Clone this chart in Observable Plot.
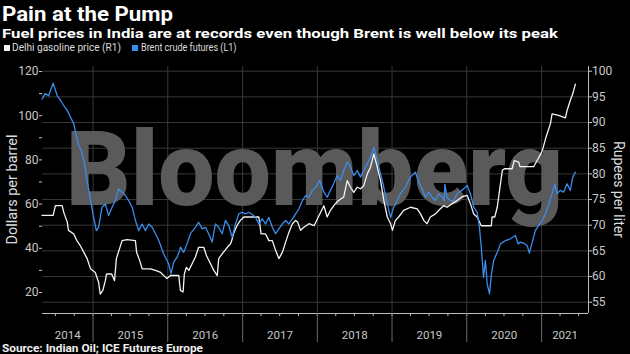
<!DOCTYPE html>
<html>
<head>
<meta charset="utf-8">
<script src="https://cdn.jsdelivr.net/npm/d3@7"></script>
<script src="https://cdn.jsdelivr.net/npm/@observablehq/plot@0.6"></script>
<style>
html,body{margin:0;padding:0;background:#000;}
#wrap{position:relative;width:630px;height:354px;overflow:hidden;background:#000;font-family:Roboto,"DejaVu Sans",sans-serif;color:#fff;}
.abs{position:absolute;white-space:nowrap;line-height:1;transform-origin:0 50%;display:inline-block;}
#title{left:2px;top:3.7px;font-size:20px;font-weight:700;}
#subtitle{left:2px;top:26.6px;font-size:13.5px;font-weight:700;}
.lg{top:43px;font-size:10px;color:#dcdcdc;}
.sq{position:absolute;top:45px;width:6px;height:6px;}
#source{left:2px;top:343.5px;font-size:10px;font-weight:700;color:#f0f0f0;}
#chart{position:absolute;left:0;top:56px;}
</style>
</head>
<body>
<div id="wrap">
  <span id="title" class="abs" data-w="171">Pain at the Pump</span>
  <span id="subtitle" class="abs" data-w="556">Fuel prices in India are at records even though Brent is well below its peak</span>
  <div class="sq" style="left:4px;background:#f2f2f2"></div>
  <span class="abs lg" style="left:12px" data-w="109">Delhi gasoline price (R1)</span>
  <div class="sq" style="left:132px;background:#3b8ced"></div>
  <span class="abs lg" style="left:140.5px" data-w="95.5">Brent crude futures (L1)</span>
  <div id="chart"></div>
  <span id="source" class="abs" data-w="201">Source: Indian Oil; ICE Futures Europe</span>
</div>
<script>
// ---- Data ----
const brentDates = ["2014-04-27","2014-05-12","2014-05-29","2014-06-20","2014-07-10","2014-07-26","2014-08-11","2014-08-28","2014-09-13","2014-09-29","2014-10-12","2014-10-23","2014-11-04","2014-11-17","2014-12-03","2014-12-20",
"2015-01-04","2015-01-17","2015-01-28","2015-02-14","2015-03-02","2015-03-18","2015-04-04","2015-04-20","2015-05-06","2015-05-23","2015-06-08","2015-06-24","2015-07-11","2015-07-27","2015-08-12","2015-08-29","2015-09-14","2015-09-30","2015-10-17","2015-11-02","2015-11-18","2015-12-12",
"2016-01-05","2016-01-17","2016-01-30","2016-02-16","2016-02-28","2016-03-03","2016-03-19","2016-04-04","2016-04-21","2016-05-15","2016-05-31","2016-06-17","2016-07-03","2016-07-19","2016-08-05","2016-08-21","2016-09-06","2016-09-23","2016-10-09","2016-10-25","2016-11-11","2016-11-27","2016-12-13","2016-12-30",
"2017-01-15","2017-01-31","2017-02-17","2017-03-05","2017-03-21","2017-04-07","2017-04-23","2017-05-09","2017-05-26","2017-06-11","2017-06-27","2017-07-14","2017-07-30","2017-08-15","2017-09-01","2017-09-17","2017-10-03","2017-10-20","2017-11-05","2017-11-21","2017-12-08","2017-12-24",
"2018-01-13","2018-02-02","2018-02-18","2018-03-06","2018-03-22","2018-04-08","2018-04-24","2018-05-10","2018-05-27","2018-06-12","2018-06-28","2018-07-15","2018-07-31","2018-08-16","2018-09-02","2018-09-18","2018-10-04","2018-10-21","2018-11-06","2018-11-22","2018-12-09","2018-12-25",
"2019-01-09","2019-01-26","2019-02-11","2019-03-07","2019-04-01","2019-04-25","2019-05-12","2019-05-28","2019-06-13","2019-06-29","2019-07-16","2019-08-01","2019-08-17","2019-09-03","2019-09-13","2019-09-16","2019-09-27","2019-10-13","2019-10-29","2019-11-15","2019-12-08",
"2020-01-03","2020-01-19","2020-02-04","2020-02-21","2020-03-03","2020-03-12","2020-03-23","2020-04-01","2020-04-10","2020-04-21","2020-05-01","2020-05-12","2020-05-29","2020-06-14","2020-07-08","2020-08-02","2020-08-26","2020-09-08","2020-09-19","2020-10-05","2020-10-22","2020-11-02","2020-11-18","2020-12-01","2020-12-17",
"2021-01-04","2021-01-20","2021-02-05","2021-02-21","2021-03-06","2021-03-17","2021-04-02","2021-04-18","2021-05-05","2021-05-21","2021-06-02","2021-06-15"];
const brentPrices = [107.6,110,109,114.7,109,107,104.6,102.4,99.3,96.3,90.3,86.5,84.3,79.7,70.7,61.6,
54,48,49.5,58.6,60.1,54.8,58.6,61.6,66.9,65.4,63.9,61.6,58.6,52.6,48,51,48,51,49.5,46.6,43.5,37.5,
33,28.5,33.7,36,39,40.5,38.2,42,46.6,49.5,51.8,48.8,49.5,46.6,42.8,51,49.5,46.6,52.6,50.3,45,51,55.6,56.3,
55.6,56.3,55.3,54,51,53.3,51,54,49.5,46.6,48.8,51,52.6,51,53.3,55.6,57.9,61.6,63.9,63.1,66.2,67.6,
70.7,65.4,63.1,66.2,69.2,72.9,70.7,75.2,79,76.7,72.9,75.2,72.2,75.2,78.2,81.2,85.7,79.7,73.7,67.6,60.1,54,
58.6,61.6,64.7,67.6,72.2,74.4,69.9,66.9,63.1,65.4,63.1,61.6,64.7,63.1,61.5,68.9,63.1,61.6,61.6,64.7,66.2,
68.4,64.7,58.6,56.3,49.5,40.5,26.9,34.5,23.9,19.4,28.5,34.5,38.2,42,43.5,44.3,45.8,42,42.8,42.3,41.3,37.8,43.5,48,50.3,
52.6,55.6,60.1,64.7,69.2,64.7,66.2,65.4,69.2,66.2,72.2,74.4];

const gasDates = ["2014-04-27","2014-06-20","2014-07-01","2014-08-03","2014-08-11","2014-08-28","2014-09-03","2014-09-29","2014-10-14","2014-10-31","2014-11-17","2014-12-03","2014-12-20",
"2015-01-12","2015-01-28","2015-02-05","2015-02-18","2015-03-02","2015-03-08","2015-04-02","2015-04-16","2015-04-25","2015-05-23","2015-06-16","2015-07-27","2015-08-02","2015-08-17","2015-08-29","2015-10-08","2015-11-02","2015-11-27","2015-12-28",
"2016-01-14","2016-02-24","2016-02-28","2016-03-03","2016-03-16","2016-03-22","2016-04-01","2016-04-13","2016-04-29","2016-05-15","2016-05-31","2016-06-25","2016-07-08","2016-07-28","2016-08-13","2016-08-30","2016-09-06","2016-09-23","2016-10-18","2016-11-03","2016-11-11","2016-11-17","2016-12-04","2016-12-20",
"2017-01-07","2017-03-21","2017-04-01","2017-04-23","2017-05-09","2017-05-26","2017-06-11","2017-06-27","2017-07-14","2017-07-30","2017-08-15","2017-09-01","2017-09-17","2017-09-27","2017-10-11","2017-10-27","2017-11-21","2017-12-16",
"2018-01-13","2018-02-02","2018-02-18","2018-03-06","2018-03-30","2018-04-15","2018-05-10","2018-05-27","2018-06-12","2018-06-28","2018-07-15","2018-07-31","2018-08-16","2018-09-02","2018-09-18","2018-10-04","2018-10-21","2018-11-06","2018-11-22","2018-12-09","2018-12-25",
"2019-01-03","2019-01-17","2019-02-02","2019-02-27","2019-04-01","2019-05-04","2019-05-20","2019-06-06","2019-06-21","2019-07-07","2019-08-01","2019-08-25","2019-09-10","2019-09-27","2019-10-21","2019-11-15","2019-12-08",
"2020-01-03","2020-01-19","2020-02-04","2020-02-21","2020-03-12","2020-04-30","2020-05-04","2020-05-17","2020-05-29","2020-06-07","2020-06-23","2020-07-03","2020-08-10","2020-08-20","2020-09-11","2020-09-17","2020-11-23","2020-12-10",
"2021-01-01","2021-01-09","2021-01-22","2021-02-13","2021-02-21","2021-03-25","2021-04-27","2021-05-05","2021-05-21","2021-06-02","2021-06-15"];
const gasPrices = [71.9,71.9,73.8,73.8,72.5,70.6,69.0,68.3,67.0,66.0,64.7,63.5,61.5,
60.8,58.9,56.6,57.3,59.2,60.5,60.5,59.2,63.5,67.0,67.2,67.0,64.7,63.1,61.5,61.5,61.2,60.8,59.6,
60.2,60.2,58.6,57.3,57.0,60.5,61.8,61.2,62.5,63.8,65.7,65.7,64.1,62.5,61.2,60.2,63.5,64.4,65.7,66.4,67.3,68.3,69.9,70.9,
71.6,71.6,68.3,68.3,67.0,67.0,65.1,63.5,64.7,66.7,68.6,70.3,70.9,70.6,69.0,69.6,70.3,69.9,
72.2,73.8,71.6,72.9,74.2,74.8,75.5,78.7,77.4,76.4,77.4,77.1,77.7,80.0,81.3,83.9,81.3,78.7,74.8,71.6,70.3,
69.0,70.9,71.6,72.9,73.5,73.2,72.2,70.9,70.3,71.6,72.2,73.2,73.8,73.5,74.2,74.8,75.5,
75.8,74.2,72.2,71.6,69.9,69.9,71.6,71.6,73.5,76.1,80.7,81.0,81.0,82.6,82.3,81.4,81.4,82.6,
84.2,85.2,87.1,89.8,91.7,91.4,90.9,92.3,94.3,95.6,97.5];

const leftTicks = [20,30,40,50,60,70,80,90,100,110,120];     // dollars per barrel
const leftLabels = [20,40,60,80,100,120];
const rightTicks = [55,60,65,70,75,80,85,90,95,100];          // rupees per liter
const yearLabels = ["2014","2015","2016","2017","2018","2019","2020","2021"];

// axis extents of the two y axes (left dollars, right rupees) and of the time axis
const leftDomain = [10.5, 122.26];
const rightDomain = [52.8, 100.92];
const xDomain = [new Date("2014-04-29"), new Date("2021-08-18")];

// right axis values share the left scale through a linear alignment of the two domains
const toLeft = r => leftDomain[0] + (r - rightDomain[0]) / (rightDomain[1] - rightDomain[0]) * (leftDomain[1] - leftDomain[0]);
const fromLeft = v => rightDomain[0] + (v - leftDomain[0]) / (leftDomain[1] - leftDomain[0]) * (rightDomain[1] - rightDomain[0]);

const brent = brentDates.map((d, i) => ({date: new Date(d), value: brentPrices[i]}));
const gas = gasDates.map((d, i) => ({date: new Date(d), value: gasPrices[i]}));

const yearStarts = yearLabels.slice(1).map(y => new Date(`${y}-01-01`));
const quarterStarts = d3.utcMonth.every(3).range(xDomain[0], xDomain[1]);
const yearMids = yearLabels.map(y => {
  const a = Math.max(+new Date(`${y}-01-01`), +xDomain[0]);
  const b = Math.min(+new Date(`${+y + 1}-01-01`), +xDomain[1]);
  return {label: y, date: new Date((a + b) / 2)};
});

const tickColor = "#c8c8c8";
const grid = "#383838";
const W = 630, H = 290, MT = 10, MB = 33, ML = 42, MR = 42;

const chart = Plot.plot({
  width: W,
  height: H,
  marginTop: MT,
  marginBottom: MB,
  marginLeft: ML,
  marginRight: MR,
  style: {background: "transparent", color: tickColor, fontFamily: "Roboto, sans-serif", fontSize: "12px", overflow: "visible"},
  x: {type: "utc", domain: xDomain, axis: null},
  y: {domain: leftDomain},
  marks: [
    Plot.ruleY(rightTicks, {y: d => toLeft(d), stroke: grid}),
    Plot.ruleX(yearStarts, {stroke: grid}),
    Plot.line(gas, {x: "date", y: d => toLeft(d.value), stroke: "#f4f4f4", strokeWidth: 1.3}),
    Plot.line(brent, {x: "date", y: "value", stroke: "#3b8ced", strokeWidth: 1.3}),
    Plot.ruleY([leftDomain[0]], {stroke: "#bdbdbd"}),
    Plot.ruleX([xDomain[1]], {stroke: "#bdbdbd"}),
    Plot.ruleX(quarterStarts, {y1: leftDomain[0], y2: leftDomain[0], insetBottom: -3, stroke: "#bdbdbd"}),
    Plot.ruleX(yearStarts, {y1: leftDomain[0], y2: leftDomain[0], insetBottom: -29, stroke: "#6a6a6a"}),
    Plot.text(yearMids, {x: "date", y: () => leftDomain[0], text: "label", dy: 22, fill: tickColor, fontSize: 11.5}),
    Plot.axisY({anchor: "left", ticks: leftTicks, tickSize: 3, tickPadding: 1, label: null, fontSize: 12,
      tickFormat: d => leftLabels.includes(d) ? String(d) : ""}),
    Plot.axisY({anchor: "right", ticks: rightTicks.map(toLeft), tickSize: 3, tickPadding: 0.5, label: null, fontSize: 12,
      tickFormat: d => String(Math.round(fromLeft(d)))})
  ]
});

const svg = d3.select(chart);
const midY = (MT + H - MB) / 2;

// Bloomberg watermark, drawn behind the two lines
svg.insert("text", 'g[aria-label="line"]')
  .attr("x", 66).attr("y", 149)
  .attr("text-anchor", "start")
  .attr("fill", "#5a5a5a")
  .attr("font-family", "Roboto, 'DejaVu Sans', sans-serif")
  .attr("font-weight", 900)
  .attr("font-size", 104)
  .attr("textLength", 497)
  .attr("lengthAdjust", "spacingAndGlyphs")
  .text("Bloomberg");

// axis titles
svg.append("text")
  .attr("transform", `translate(12,${midY}) rotate(-90)`)
  .attr("text-anchor", "middle").attr("dominant-baseline", "central")
  .attr("font-size", 14.5).attr("fill", "#dedede")
  .text("Dollars per barrel");
svg.append("text")
  .attr("transform", `translate(619,${midY}) rotate(90)`)
  .attr("text-anchor", "middle").attr("dominant-baseline", "central")
  .attr("font-size", 14).attr("fill", "#dedede")
  .text("Rupees per liter");

document.getElementById("chart").appendChild(chart);

function fit() {
  document.querySelectorAll("[data-w]").forEach(el => {
    el.style.transform = "none";
    const w = el.getBoundingClientRect().width;
    if (w > 0) el.style.transform = `scaleX(${(+el.dataset.w / w).toFixed(4)})`;
  });
}
fit();
if (document.fonts && document.fonts.ready) document.fonts.ready.then(fit);
</script>
</body>
</html>
